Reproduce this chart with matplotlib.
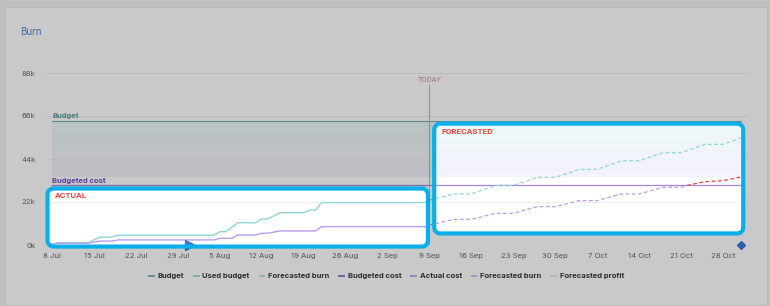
import matplotlib
matplotlib.use('Agg')
import matplotlib.pyplot as plt
import matplotlib.dates as mdates
import numpy as np
import pandas as pd
from matplotlib.path import Path
from matplotlib.patches import PathPatch, Rectangle
from matplotlib.lines import Line2D
from matplotlib.transforms import IdentityTransform

plt.rcParams['font.family'] = ['Inter', 'DejaVu Sans']

# values in thousands
used_dates = ['2024-07-08', '2024-07-09', '2024-07-14', '2024-07-16', '2024-07-18',
              '2024-07-19', '2024-08-04', '2024-08-05', '2024-08-06', '2024-08-08',
              '2024-08-11', '2024-08-12', '2024-08-13', '2024-08-15', '2024-08-19',
              '2024-08-20', '2024-08-21', '2024-08-22', '2024-09-09']
used_values = [0.3, 1.2, 1.2, 4.0, 4.0, 5.0, 5.0, 6.8, 6.8, 11.4,
               11.4, 13.3, 13.3, 16.5, 16.5, 17.9, 17.9, 21.7, 21.7]

cost_dates = ['2024-07-08', '2024-07-09', '2024-07-14', '2024-07-16', '2024-07-18',
              '2024-07-19', '2024-08-04', '2024-08-05', '2024-08-07', '2024-08-08',
              '2024-08-11', '2024-08-12', '2024-08-13', '2024-08-15', '2024-08-21',
              '2024-08-22', '2024-09-09']
cost_values = [0.3, 0.9, 0.9, 2.0, 2.0, 2.6, 2.6, 3.4, 3.4, 5.1,
               5.1, 6.0, 6.0, 7.2, 7.2, 9.4, 9.4]

fc_burn_dates = ['2024-09-09', '2024-09-13', '2024-09-16', '2024-09-20', '2024-09-23',
                 '2024-09-27', '2024-09-30', '2024-10-04', '2024-10-07', '2024-10-11',
                 '2024-10-14', '2024-10-18', '2024-10-21', '2024-10-25', '2024-10-28',
                 '2024-10-31']
fc_burn_values = [23.0, 26.1, 26.1, 30.5, 30.5, 34.6, 34.6, 38.7, 38.7, 43.1,
                  43.1, 47.2, 47.2, 51.5, 51.5, 54.9]

fc_cost_dates = ['2024-09-09', '2024-09-13', '2024-09-16', '2024-09-20', '2024-09-23',
                 '2024-09-27', '2024-09-30', '2024-10-04', '2024-10-07', '2024-10-11',
                 '2024-10-14', '2024-10-18', '2024-10-21', '2024-10-22']
fc_cost_values = [10.2, 13.1, 13.1, 16.2, 16.2, 19.6, 19.6, 22.7, 22.7, 26.1,
                  26.1, 29.5, 29.5, 30.5]

overrun_dates = ['2024-10-22', '2024-10-25', '2024-10-28', '2024-10-31']
overrun_values = [30.5, 32.4, 32.9, 34.8]

budget = 63.3
budgeted_cost = 30.5
margin_floor = 35.0
first_day = '2024-07-08'
last_day = '2024-10-31'
today = '2024-09-09'
milestone = '2024-07-31'

tick_dates = ['2024-07-08', '2024-07-15', '2024-07-22', '2024-07-29', '2024-08-05',
              '2024-08-12', '2024-08-19', '2024-08-26', '2024-09-02', '2024-09-09',
              '2024-09-16', '2024-09-23', '2024-09-30', '2024-10-07', '2024-10-14',
              '2024-10-21', '2024-10-28']
tick_labels = ['8 Jul', '15 Jul', '22 Jul', '29 Jul', '5 Aug', '12 Aug', '19 Aug',
               '26 Aug', '2 Sep', '9 Sep', '16 Sep', '23 Sep', '30 Sep', '7 Oct',
               '14 Oct', '21 Oct', '28 Oct']
y_ticks = [0, 22, 44, 66, 88]
y_labels = ['0k', '22k', '44k', '66k', '88k']

legend_labels = ['Budget', 'Used budget', 'Forecasted burn', 'Budgeted cost',
                 'Actual cost', 'Forecasted burn', 'Forecasted profit']
legend_colors = ['#7fb3b0', '#9edbd4', '#b7e8e3', '#9478d0', '#bda6f0', '#cbbcf3', '#e6e6e6']

# highlight boxes: (left date, right date, bottom value, top value)
actual_box = ('2024-07-07 06:00', '2024-09-08 18:00', -0.8, 28.9)
forecast_box = ('2024-09-09 19:00', '2024-10-31 09:00', 5.9, 62.1)

TEAL = '#8ed8d0'
PURPLE = '#b89cf0'
RED = '#e8473c'


def d(s):
    return mdates.date2num(pd.Timestamp(s))


def rounded_ring(x0, y0, x1, y1, r, n=8):
    pts = []
    corners = [(x1 - r, y0 + r, -90), (x1 - r, y1 - r, 0),
               (x0 + r, y1 - r, 90), (x0 + r, y0 + r, 180)]
    for cx, cy, a0 in corners:
        for a in np.radians(np.linspace(a0, a0 + 90, n)):
            pts.append((cx + r * np.cos(a), cy + r * np.sin(a)))
    return pts


def ring_path(pts):
    verts = list(pts) + [pts[0]]
    codes = [Path.MOVETO] + [Path.LINETO] * (len(pts) - 1) + [Path.CLOSEPOLY]
    return verts, codes


fig = plt.figure(figsize=(7.7, 3.06), dpi=100)
fig.patch.set_facecolor('#f3f3f3')
fig.add_artist(Rectangle((5 / 770, 1 / 306), 762 / 770, 298 / 306, transform=fig.transFigure,
                         facecolor='white', edgecolor='#e8e8e8', lw=0.6, zorder=-5))

ax = fig.add_axes([45 / 770, 61 / 306, 703 / 770, 172 / 306])
ax.set_facecolor('none')
pad = 1.17
ax.set_xlim(d(first_day) - pad, d(last_day) + pad)
ax.set_ylim(0, 88)

for s in ax.spines.values():
    s.set_visible(False)
ax.set_yticks(y_ticks)
ax.set_yticklabels(y_labels)
ax.set_xticks([d(t) for t in tick_dates])
ax.set_xticklabels(tick_labels)
ax.tick_params(length=0, labelsize=5.5, labelcolor='#6a6a6a')
ax.tick_params(axis='y', pad=7)
ax.tick_params(axis='x', pad=6)
ax.grid(axis='y', color='#ececec', lw=0.6)
ax.set_axisbelow(True)

# margin band between budget and budgeted cost
grad = np.linspace(0, 1, 64).reshape(-1, 1)
cmap = matplotlib.colors.LinearSegmentedColormap.from_list('band', ['#f5f2fc', '#ebf8f7'])
ax.imshow(grad, cmap=cmap, aspect='auto', origin='lower', zorder=1,
          extent=(d(first_day), d(last_day), margin_floor, budget))

ax.plot([d(first_day), d(last_day)], [budget, budget], color='#7aaeab', lw=0.8, zorder=2)
ax.plot([d(first_day), d(last_day)], [budgeted_cost, budgeted_cost], color='#a586dc', lw=0.9, zorder=2)
ax.text(d(first_day), budget + 1.2, 'Budget', fontsize=5.5, fontweight='bold',
        color='#5ca09e', va='bottom', ha='left')
ax.text(d(first_day), margin_floor - 3.6, 'Budgeted cost', fontsize=5.5, fontweight='bold',
        color='#7352c2', va='bottom', ha='left')

ax.plot([d(x) for x in used_dates], used_values, color=TEAL, lw=1.0, zorder=3)
ax.plot([d(x) for x in cost_dates], cost_values, color=PURPLE, lw=1.0, zorder=3)
ax.plot([d(x) for x in fc_burn_dates], fc_burn_values, color=TEAL, lw=0.9,
        dashes=(3, 2), zorder=3)
ax.plot([d(x) for x in fc_cost_dates], fc_cost_values, color=PURPLE, lw=0.9,
        dashes=(3, 2), zorder=3)
ax.plot([d(x) for x in overrun_dates], overrun_values, color=RED, lw=0.9,
        dashes=(3, 2), zorder=3)

ax.plot([d(today), d(today)], [0, 82], color='#d6a4b6', lw=0.7, zorder=2)
ax.text(d(today), 83, 'TODAY', fontsize=5, color='#c98aa2', ha='center', va='bottom')

ax.plot([d(milestone)], [0], marker='>', ms=6.5, color='#3b72dc', clip_on=False, zorder=4)
ax.plot([d(last_day)], [0], marker='D', ms=4.5, color='#3d79e0', clip_on=False, zorder=4)

fig.text(20 / 770, 1 - 32 / 306, 'Burn', fontsize=7, color='#4f8ad8', va='center')

handles = [Line2D([0], [0], color=c, lw=1.4) for c in legend_colors]
fig.legend(handles, legend_labels, loc='center', bbox_to_anchor=(0.502, 30 / 306), ncol=7,
           frameon=False, fontsize=5.5, handlelength=0.6, handletextpad=0.5,
           columnspacing=1.3, labelcolor='#3a3a3a', prop={'weight': 'bold', 'size': 5.5})

# dim everything except the highlighted boxes
W, H = fig.bbox.width, fig.bbox.height
verts, codes = ring_path([(0, 0), (W, 0), (W, H), (0, H)])
rings = []
for x0, x1, y0, y1 in [actual_box, forecast_box]:
    (px0, py0), (px1, py1) = ax.transData.transform([(d(x0), y0), (d(x1), y1)])
    ring = rounded_ring(px0, py0, px1, py1, 6)
    rings.append(ring)
    v, c = ring_path(ring[::-1])
    verts += v
    codes += c
fig.add_artist(PathPatch(Path(verts, codes), transform=IdentityTransform(),
                         facecolor='black', alpha=0.21, lw=0, zorder=10))
for ring in rings:
    v, c = ring_path(ring)
    fig.add_artist(PathPatch(Path(v, c), transform=IdentityTransform(), fill=False,
                             edgecolor='#0aafea', lw=3, joinstyle='round', zorder=11))

fig.text(d(actual_box[0]) + 1.2, 25.2, 'ACTUAL', transform=ax.transData, fontsize=5.5,
         fontweight='bold', color='#f0483e', va='center', zorder=12)
fig.text(d(forecast_box[0]) + 1.2, 58.0, 'FORECASTED', transform=ax.transData, fontsize=5.5,
         fontweight='bold', color='#f0483e', va='center', zorder=12)

fig.savefig('out.png', dpi=100)
